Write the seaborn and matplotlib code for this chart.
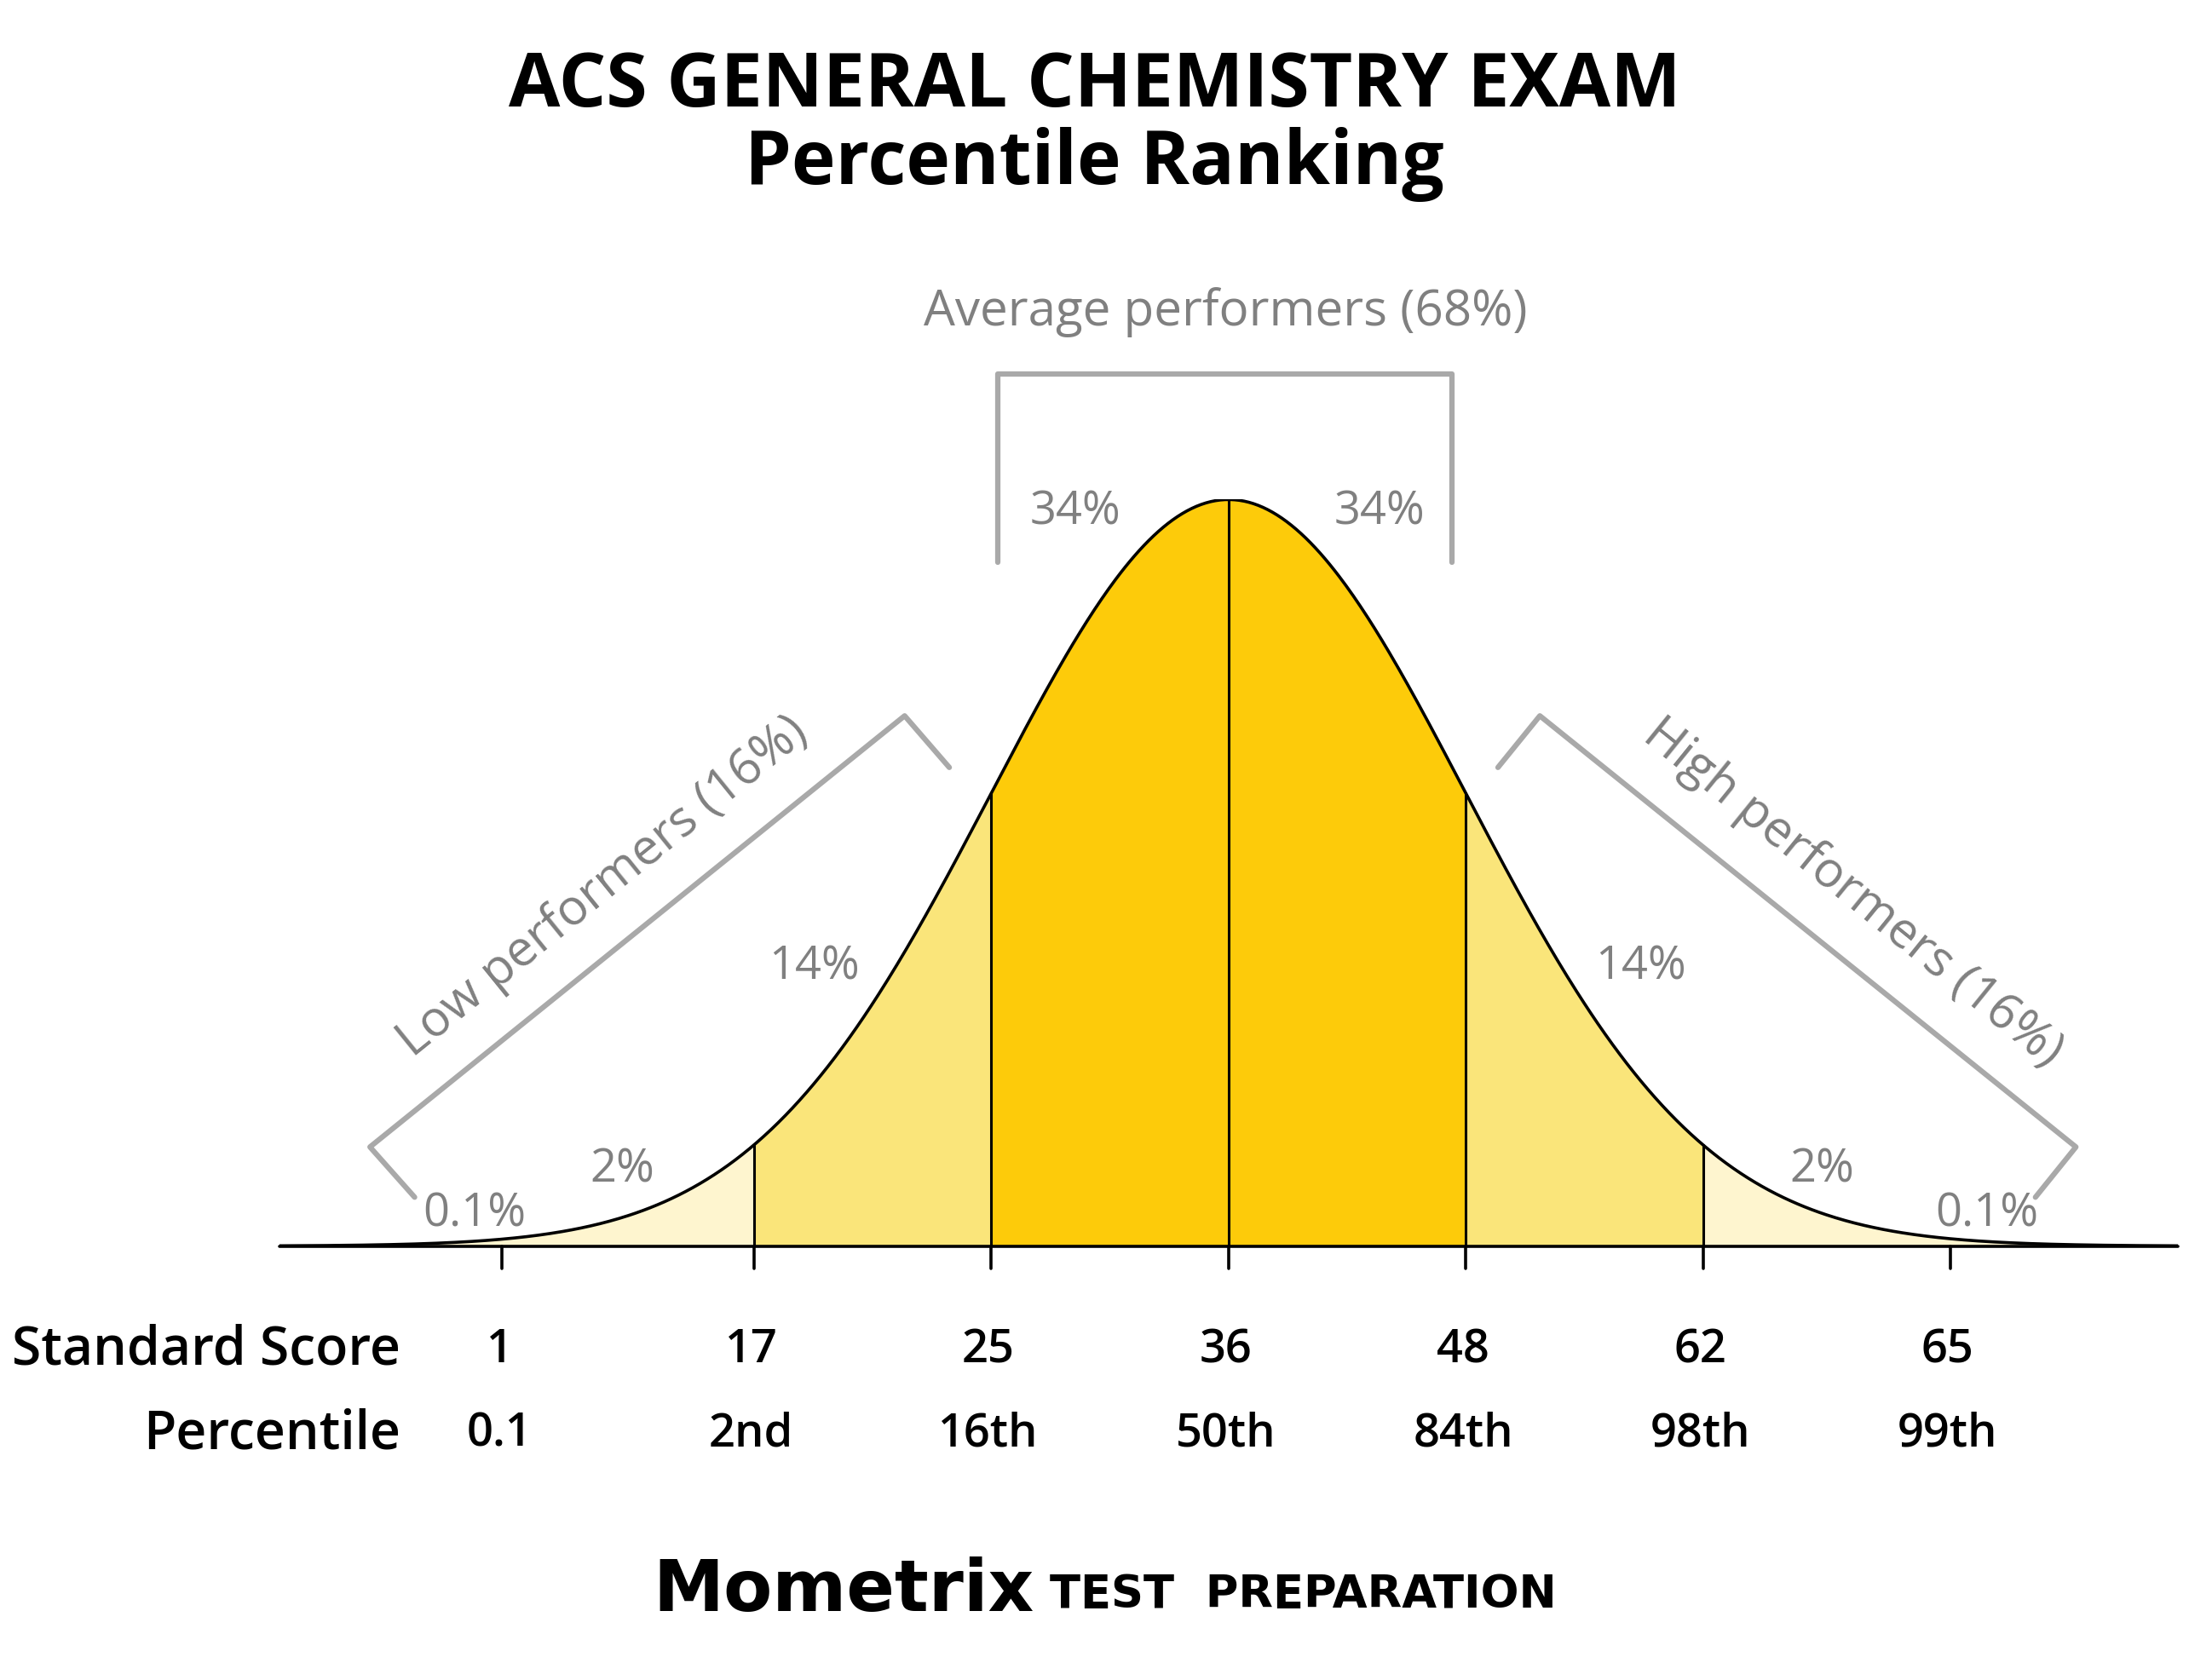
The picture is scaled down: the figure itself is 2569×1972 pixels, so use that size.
import numpy as np
import matplotlib
matplotlib.use("Agg")
import matplotlib.pyplot as plt
import seaborn as sns

sns.set_theme(style="white")
plt.rcParams['font.family'] = ['Open Sans', 'DejaVu Sans']
plt.rcParams['text.color'] = 'black'

# data
band_edges = [-4.0, -2.0, -1.0, 0.0, 1.0, 2.0, 4.0]
band_colors = ["#FEF5CF", "#FAE57A", "#FDCB0A", "#FDCB0A", "#FAE57A", "#FEF5CF"]
tick_z = [-3.06, -2.0, -1.0, 0.0, 1.0, 2.0, 3.04]
standard_scores = ["1", "17", "25", "36", "48", "62", "65"]
percentiles = ["0.1", "2nd", "16th", "50th", "84th", "98th", "99th"]
pct_labels = ["0.1%", "2%", "14%", "34%", "34%", "14%", "2%", "0.1%"]
pct_pos = [(340, 870), (446, 838), (583, 693), (770, 367), (988, 367), (1175, 693), (1305, 838), (1423, 870)]

W, H = 1568, 1204
fig = plt.figure(figsize=(25.69, 19.72), dpi=100)
fig.patch.set_facecolor("white")

left = 200 / W
width = 1360 / W
bottom = 1 - 893 / H
height = (893 - 358) / H
ax = fig.add_axes([left, bottom, width, height])
ax.set_xlim(-4, 4)
ax.set_ylim(0, 0.39894)
ax.axis("off")
pdf = lambda z: np.exp(-z**2 / 2) / np.sqrt(2 * np.pi)
for i in range(len(band_edges) - 1):
    zz = np.linspace(band_edges[i], band_edges[i + 1], 200)
    ax.fill_between(zz, 0, pdf(zz), color=band_colors[i], lw=0)
zz = np.linspace(-4, 4, 800)
sns.lineplot(x=zz, y=pdf(zz), ax=ax, color="black", lw=2.6)
for e in band_edges[1:-1]:
    ax.plot([e, e], [0, pdf(e)], color="black", lw=2.2)
ax.plot([-4, 4], [0, 0], color="black", lw=2.6, clip_on=False)
for t in tick_z:
    ax.plot([t, t], [0, -0.012], color="black", lw=2.6, clip_on=False)

ov = fig.add_axes([0, 0, 1, 1], zorder=5)
ov.set_xlim(0, W)
ov.set_ylim(H, 0)
ov.axis("off")
ov.patch.set_alpha(0)

ov.text(784, 62, "ACS GENERAL CHEMISTRY EXAM", ha="center", va="center", fontsize=63, fontweight="bold", color="black")
ov.text(784, 118, "Percentile Ranking", ha="center", va="center", fontsize=63, fontweight="bold", color="black")

gray = "#808080"
bcol = "#A9A9A9"
ov.text(878, 224, "Average performers (68%)", ha="center", va="center", fontsize=42, color=gray)
ov.plot([715, 715, 1040, 1040], [403, 268, 268, 403], color=bcol, lw=4.5)
ov.plot([297, 265, 648, 680], [858, 822, 513, 550], color=bcol, lw=4.5)
ov.plot([1073, 1103, 1487, 1458], [550, 513, 822, 858], color=bcol, lw=4.5)
ov.text(432, 636, "Low performers (16%)", ha="center", va="center", fontsize=42, color=gray,
        rotation=39, rotation_mode="anchor")
ov.text(1327, 640, "High performers (16%)", ha="center", va="center", fontsize=42, color=gray,
        rotation=-39, rotation_mode="anchor")
for lab, (x, y) in zip(pct_labels, pct_pos):
    ov.text(x, y, lab, ha="center", va="center", fontsize=39, color=gray)

ov.text(287, 968, "Standard Score", ha="right", va="center", fontsize=45, fontweight="semibold", color="black")
ov.text(287, 1028, "Percentile", ha="right", va="center", fontsize=45, fontweight="semibold", color="black")
for t, s, p in zip(tick_z, standard_scores, percentiles):
    x = 878 + t * 170
    ov.text(x, 968, s, ha="center", va="center", fontsize=39, fontweight="semibold", color="black")
    ov.text(x, 1028, p, ha="center", va="center", fontsize=39, fontweight="semibold", color="black")

ov.text(468, 1140, "Mometrix", ha="left", va="center", fontsize=60, fontweight="heavy",
        family=["DejaVu Sans"], color="black")
ov.text(752, 1143, "TEST  PREPARATION", ha="left", va="center", fontsize=38, fontweight="bold",
        family=["DejaVu Sans"], color="black")

fig.savefig("out.png", dpi=100)
